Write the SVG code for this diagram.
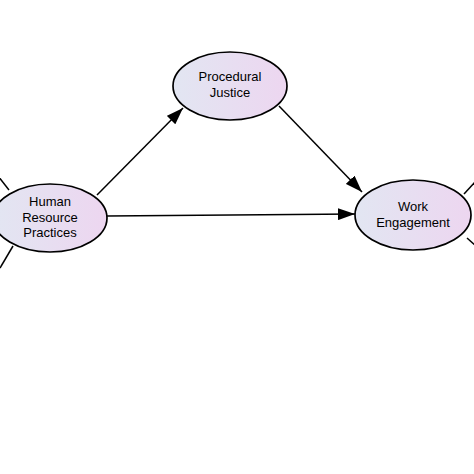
<svg xmlns="http://www.w3.org/2000/svg" width="474" height="474" viewBox="0 0 474 474">
<defs>
<linearGradient id="g" x1="0" y1="0" x2="1" y2="0">
<stop offset="0" stop-color="#e2e6f2"/>
<stop offset="1" stop-color="#edd6f0"/>
</linearGradient>
<marker id="ah" markerWidth="18" markerHeight="12" refX="17" refY="6" orient="auto" markerUnits="userSpaceOnUse">
<path d="M0,0 L17,6 L0,12 Z" fill="#000"/>
</marker>
<style>
.n{fill:url(#g);stroke:#000;stroke-width:1.7}
.t{font-family:"Liberation Sans",Arial,sans-serif;font-size:13px;fill:#000;text-anchor:middle}
.c{stroke:#000;stroke-width:1.5;fill:none}
</style>
</defs>
<rect width="474" height="474" fill="#fff"/>
<g id="connectors">
<line class="c" x1="97" y1="195" x2="183" y2="108" marker-end="url(#ah)"/>
<line class="c" x1="107" y1="216" x2="355" y2="214" marker-end="url(#ah)"/>
<line class="c" x1="279" y1="106" x2="362" y2="192" marker-end="url(#ah)"/>
<line class="c" x1="-2" y1="176" x2="9" y2="190"/>
<line class="c" x1="13" y1="246" x2="0" y2="268"/>
<line class="c" x1="464" y1="194" x2="476" y2="181"/>
<line class="c" x1="467" y1="238" x2="476" y2="246"/>
</g>
<g id="hrp">
<ellipse class="n" cx="50" cy="218" rx="57" ry="34"/>
<text class="t" x="50" y="206">Human</text>
<text class="t" x="50" y="221.5">Resource</text>
<text class="t" x="50" y="237">Practices</text>
</g>
<g id="pj">
<ellipse class="n" cx="230" cy="86" rx="57" ry="34"/>
<text class="t" x="230" y="81">Procedural</text>
<text class="t" x="230" y="97">Justice</text>
</g>
<g id="we">
<ellipse class="n" cx="413" cy="215" rx="58" ry="35"/>
<text class="t" x="413" y="211">Work</text>
<text class="t" x="413" y="227">Engagement</text>
</g>
</svg>
